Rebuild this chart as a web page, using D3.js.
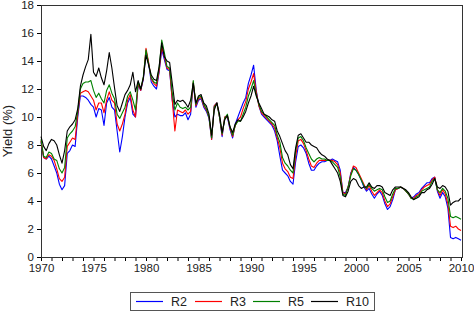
<!DOCTYPE html>
<html>
<head>
<meta charset="utf-8">
<script src="https://cdn.jsdelivr.net/npm/d3@7"></script>
<style>
  html, body { margin: 0; padding: 0; background: #fff; }
  svg text { font-family: "Liberation Sans", Arial, Helvetica, sans-serif; fill: #222; }
</style>
</head>
<body>
<svg id="chart" width="474" height="329"></svg>
<script>
// Quarterly observations, 1970Q1 .. 2010Q1
const startYear = 1970;
const stepYears = 0.25;

const R2 = [
  8.2, 7.1, 7.0, 7.2,   7.0, 6.5, 6.0, 5.2,   4.8, 5.1, 7.4, 7.6,   8.0, 7.9, 10.0, 11.5,
  11.5, 11.4, 11.2, 10.9,   10.7, 10.0, 10.6, 10.5,   9.4, 11.0, 11.4, 10.7,   10.5, 9.0, 7.5, 8.6,
  10.0, 11.0, 11.4, 10.2,   10.0, 12.3, 11.9, 12.7,   14.7, 13.8, 12.5, 12.2,   12.0, 13.2, 14.8, 14.1,
  13.4, 13.3, 11.2, 10.0,   10.2, 10.1, 10.1, 10.3,   9.8, 10.2, 12.4, 10.7,   11.2, 11.3, 10.7, 10.4,
  9.9, 8.4, 10.8, 11.0,   10.0, 8.6, 10.0, 10.0,   9.1, 8.5, 9.5, 10.0,   10.5, 11.0, 11.4, 12.4,
  13.0, 13.7, 11.9, 10.8,   10.2, 10.0, 9.8, 9.6,   9.4, 9.0, 8.3, 7.2,   6.2, 6.0, 5.8, 5.4,
  5.2, 6.8, 7.9, 8.0,   7.8, 7.4, 6.7, 6.2,   6.2, 6.5, 6.7, 6.8,   6.8, 6.9, 6.9, 7.0,
  6.9, 6.8, 6.2, 4.6,   4.6, 5.0, 6.0, 6.4,   6.2, 5.9, 5.5, 5.0,   4.7, 4.9, 4.5, 4.2,
  4.5, 4.7, 4.4, 3.8,   3.4, 3.6, 4.1, 4.8,   4.9, 5.0, 4.9, 4.7,   4.5, 4.2, 4.3, 4.5,
  4.6, 4.9, 5.1, 5.3,   5.3, 5.6, 5.7, 4.7,   4.2, 4.6, 4.3, 3.5,   1.4, 1.3, 1.4, 1.3,
  1.2
];

const R3 = [
  8.3, 7.1, 7.0, 7.3,   7.2, 6.9, 6.3, 5.6,   5.4, 5.7, 7.9, 8.2,   8.5, 8.4, 10.2, 11.7,
  11.8, 11.9, 11.8, 11.5,   11.2, 10.5, 11.0, 11.0,   10.3, 11.2, 11.8, 11.2,   11.0, 9.5, 9.0, 9.5,
  10.2, 11.2, 11.6, 10.5,   10.0, 12.4, 11.9, 12.8,   14.9, 13.9, 12.7, 12.4,   12.2, 13.3, 15.0, 14.3,
  13.5, 13.4, 11.2, 9.0,   10.5, 10.4, 10.3, 10.5,   10.2, 10.4, 12.5, 10.8,   11.3, 11.4, 10.8, 10.5,
  10.0, 8.4, 10.8, 11.0,   10.0, 8.7, 10.0, 10.1,   9.2, 8.6, 9.4, 9.8,   10.0, 10.6, 11.1, 12.0,
  12.5, 13.1, 11.8, 10.8,   10.3, 10.1, 9.9, 9.7,   9.5, 9.2, 8.5, 7.8,   6.7, 6.3, 6.1, 5.7,
  5.6, 7.2, 8.3, 8.4,   8.1, 7.6, 7.0, 6.5,   6.4, 6.7, 6.9, 6.9,   6.9, 6.9, 6.9, 6.9,
  6.8, 6.6, 6.0, 4.6,   4.5, 5.0, 5.9, 6.5,   6.4, 6.0, 5.6, 5.2,   4.8, 5.1, 4.7, 4.4,
  4.6, 4.8, 4.6, 4.0,   3.6, 3.8, 4.3, 4.8,   4.9, 5.0, 4.9, 4.7,   4.5, 4.2, 4.2, 4.4,
  4.5, 4.8, 5.0, 5.1,   5.2, 5.5, 5.7, 4.8,   4.4, 4.8, 4.5, 3.8,   2.2, 2.1, 2.2, 2.0,
  1.9
];

const R5 = [
  8.4, 7.2, 7.1, 7.5,   7.4, 7.0, 6.9, 6.3,   6.0, 6.4, 8.5, 8.8,   9.0, 9.3, 10.4, 12.0,
  12.4, 12.5, 12.5, 12.6,   11.9, 11.4, 11.7, 11.3,   11.0, 11.9, 12.3, 11.7,   11.3, 10.2, 9.9, 10.3,
  10.7, 11.5, 11.8, 11.2,   10.5, 12.5, 12.0, 12.9,   14.8, 13.8, 12.8, 12.5,   12.4, 13.5, 15.5, 14.6,
  13.6, 13.5, 11.7, 10.5,   11.0, 10.7, 10.6, 10.7,   10.5, 10.7, 12.6, 10.9,   11.4, 11.5, 10.9, 10.6,
  10.0, 8.5, 10.7, 11.0,   10.0, 8.8, 9.9, 10.2,   9.3, 8.7, 9.4, 9.7,   9.7, 10.2, 10.7, 11.5,
  12.0, 12.6, 11.6, 10.9,   10.4, 10.2, 10.0, 9.8,   9.6, 9.4, 8.7, 8.2,   7.1, 6.7, 6.5, 6.2,
  6.0, 7.6, 8.5, 8.6,   8.3, 7.8, 7.4, 7.0,   6.8, 7.0, 7.1, 7.0,   7.0, 6.9, 6.9, 6.8,
  6.6, 6.4, 5.7, 4.5,   4.4, 5.0, 5.8, 6.3,   6.2, 5.9, 5.5, 5.1,   4.9, 5.2, 4.9, 4.7,
  4.8, 4.9, 4.8, 4.3,   3.9, 4.0, 4.5, 4.9,   4.9, 5.0, 4.9, 4.7,   4.5, 4.2, 4.1, 4.3,
  4.4, 4.7, 4.8, 4.9,   5.0, 5.4, 5.6, 4.8,   4.6, 4.9, 4.7, 4.2,   2.9, 2.8, 2.9, 2.8,
  2.7
];

const R10 = [
  8.6, 7.9, 7.6, 8.1,   8.4, 8.3, 8.0, 7.3,   6.7, 7.6, 9.0, 9.3,   9.5, 9.8, 10.6, 12.2,
  13.0, 13.6, 14.1, 15.9,   13.2, 12.9, 13.5, 12.8,   12.3, 13.3, 14.6, 13.5,   12.1, 10.8, 10.4, 11.0,
  11.6, 11.9, 12.3, 13.2,   11.8, 12.6, 12.0, 12.8,   14.4, 13.7, 13.0, 12.7,   12.6, 13.6, 15.3, 14.3,
  14.0, 13.9, 12.4, 10.9,   11.2, 11.1, 11.2, 11.0,   10.7, 11.2, 12.4, 11.0,   11.5, 11.6, 11.0, 10.8,
  10.2, 8.7, 10.5, 11.0,   10.2, 8.9, 9.8, 10.1,   9.3, 8.9, 9.5, 9.8,   9.7, 10.0, 10.4, 11.0,
  11.5, 12.2, 11.5, 11.0,   10.6, 10.2, 10.1, 10.0,   9.8, 9.7, 9.0, 8.6,   8.1, 7.6, 7.3, 6.6,
  6.3, 7.8, 8.7, 8.8,   8.5, 8.2, 8.2, 8.0,   7.9, 7.8, 7.5, 7.3,   7.2, 7.0, 6.9, 6.6,
  6.3, 6.0, 5.4, 4.4,   4.3, 4.7, 5.4, 5.6,   5.5, 5.1, 4.9, 5.0,   5.0, 5.3, 5.0, 4.9,
  5.1, 5.1, 5.0, 4.6,   4.5, 4.4, 4.8, 5.0,   5.0, 5.0, 4.9, 4.8,   4.6, 4.3, 4.1, 4.2,
  4.3, 4.6, 4.6, 4.8,   4.9, 5.2, 5.6, 5.0,   4.9, 5.1, 5.0, 4.7,   3.7, 3.9, 4.0, 4.0,
  4.2
];

const seriesNames = ["R2", "R3", "R5", "R10"];
const seriesColors = ["#0000ff", "#ff0000", "#008000", "#000000"];
const yTicks = [0, 2, 4, 6, 8, 10, 12, 14, 16, 18];
const xTickLabels = [1970, 1975, 1980, 1985, 1990, 1995, 2000, 2005, 2010];
const yAxisTitle = "Yield (%)";

const seriesValues = [R2, R3, R5, R10];

const svg = d3.select("#chart");
const plot = { left: 41, top: 5, right: 462, bottom: 257 };

const x = d3.scaleLinear().domain([1970, 2010]).range([plot.left, plot.right - 1]);
const y = d3.scaleLinear().domain([0, 18]).range([plot.bottom, plot.top]);

// y axis: major ticks outward with labels
const yAxis = d3.axisLeft(y).tickValues(yTicks).tickSize(4).tickPadding(3).tickFormat(d3.format("d"));
const gy = svg.append("g").attr("transform", `translate(${plot.left},0)`).call(yAxis);
gy.select(".domain").remove();
gy.selectAll("line").attr("stroke", "#000");
gy.selectAll("text").attr("font-size", "11.5px");

// x axis: yearly ticks, labels every five years
const years = d3.range(1970, 2011);
const xAxis = d3.axisBottom(x).tickValues(years).tickSize(4).tickPadding(3)
  .tickFormat(d => xTickLabels.includes(d) ? String(d) : "");
const gx = svg.append("g").attr("transform", `translate(0,${plot.bottom})`).call(xAxis);
gx.select(".domain").remove();
gx.selectAll("line").attr("stroke", "#000");
gx.selectAll("text").attr("font-size", "11.5px");

// plot frame
svg.append("rect")
  .attr("x", plot.left + 0.5).attr("y", plot.top + 0.5)
  .attr("width", plot.right - plot.left).attr("height", plot.bottom - plot.top)
  .attr("fill", "none").attr("stroke", "#333").attr("stroke-width", 1);

// series lines
const line = d3.line()
  .x((d, i) => x(startYear + i * stepYears))
  .y(d => y(d));

svg.append("g").selectAll("path")
  .data(seriesValues)
  .join("path")
  .attr("d", line)
  .attr("fill", "none")
  .attr("stroke", (d, i) => seriesColors[i])
  .attr("stroke-width", 1.1)
  .attr("stroke-linejoin", "round");

// y axis title
svg.append("text")
  .attr("transform", `translate(12,${(plot.top + plot.bottom) / 2}) rotate(-90)`)
  .attr("text-anchor", "middle")
  .attr("font-size", "13px")
  .text(yAxisTitle);

// legend
const legend = { x: 130, y: 292, w: 244, h: 18 };
svg.append("rect")
  .attr("x", legend.x + 0.5).attr("y", legend.y + 0.5)
  .attr("width", legend.w).attr("height", legend.h)
  .attr("fill", "#fff").attr("stroke", "#555").attr("stroke-width", 1);

const itemX = [136, 195, 253, 311];
const items = svg.append("g").selectAll("g")
  .data(seriesNames)
  .join("g")
  .attr("transform", (d, i) => `translate(${itemX[i]},${legend.y + legend.h / 2 + 0.5})`);
items.append("line")
  .attr("x1", 0).attr("x2", 27)
  .attr("stroke", (d, i) => seriesColors[i])
  .attr("stroke-width", 1.2);
items.append("text")
  .attr("x", 35).attr("dy", "0.36em")
  .attr("font-size", "12.5px")
  .text(d => d);
</script>
</body>
</html>
